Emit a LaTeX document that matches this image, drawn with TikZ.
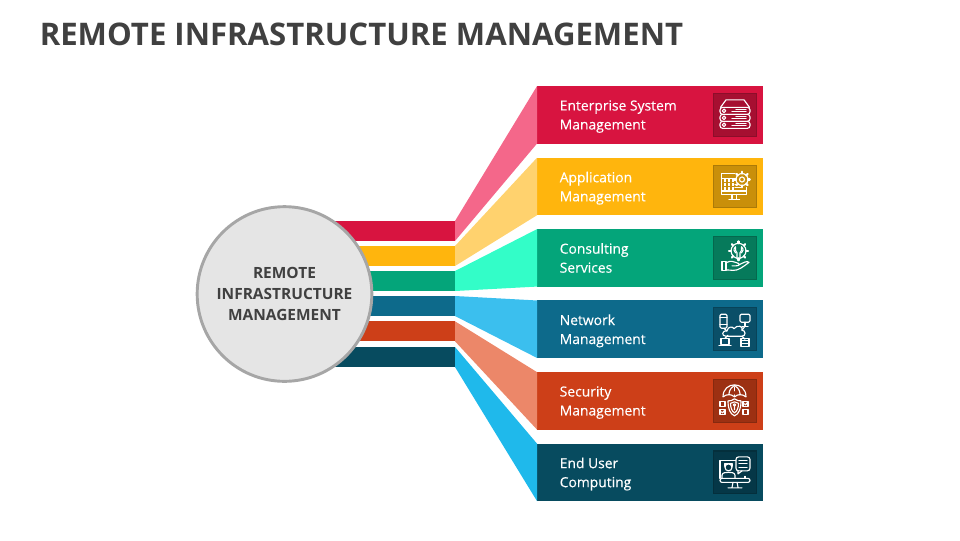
\documentclass[tikz,border=0pt]{standalone}
\usepackage{fontspec}
\setmainfont{Open Sans}
\newfontfamily\labelfont[FakeBold=0.3]{Open Sans}
\usepackage{xcolor}
\usepackage{tikz}
\usetikzlibrary{positioning,calc}

\definecolor{crimsonBar}{HTML}{D81440}
\definecolor{crimsonLight}{HTML}{F4678A}
\definecolor{crimsonDark}{HTML}{A60F31}
\definecolor{amberBar}{HTML}{FFB50D}
\definecolor{amberLight}{HTML}{FFD26E}
\definecolor{amberDark}{HTML}{C98F0A}
\definecolor{greenBar}{HTML}{04A57A}
\definecolor{greenLight}{HTML}{33FDC8}
\definecolor{greenDark}{HTML}{067A5B}
\definecolor{tealBar}{HTML}{0D6A8B}
\definecolor{tealLight}{HTML}{3BBFEE}
\definecolor{tealDark}{HTML}{0A4F68}
\definecolor{rustBar}{HTML}{CD3F18}
\definecolor{rustLight}{HTML}{EC8769}
\definecolor{rustDark}{HTML}{9C3012}
\definecolor{navyBar}{HTML}{074B5F}
\definecolor{navyLight}{HTML}{1FB9EB}
\definecolor{navyDark}{HTML}{053747}

\tikzset{
    stubbar/.style={minimum width=93.75pt,minimum height=15pt,inner sep=0pt,outer sep=0pt},
    rowbar/.style={minimum width=169.5pt,minimum height=43.1pt,inner sep=0pt,outer sep=0pt},
    rowtext/.style={anchor=west,inner sep=0pt,text=white,align=left,font=\labelfont\fontsize{10.4}{14.25}\selectfont},
    iconbox/.style={minimum size=32pt,inner sep=0pt,line width=0.8pt},
    iconline/.style={draw=white,line width=0.85pt,line join=round,line cap=round}
}

\begin{document}
\begin{tikzpicture}[x=0.75pt,y=-0.75pt]
    \useasboundingbox (0,0) rectangle (960,540);

    % Title
    \node[anchor=west,inner sep=0pt,text=black!75,font=\fontsize{23.35}{28}\selectfont\bfseries] (title) at (39.5,34) {REMOTE INFRASTRUCTURE MANAGEMENT};

    % Draw bars and wedges
    \foreach \n/\ys/\yr/\base/\txt in {
        1/231/114.85/crimson/{Enterprise System\\Management},
        2/256/186.5/amber/{Application\\Management},
        3/281/257.85/green/{Consulting\\Services},
        4/306/329.2/teal/{Network\\Management},
        5/331.3/400.85/rust/{Security\\Management},
        6/357/472.35/navy/{End User\\Computing}} {
        \node[stubbar,fill=\base Bar] (stub\n) at (392.5,\ys) {};
        \node[rowbar,fill=\base Bar] (row\n) at (650,\yr) {};
        \fill[\base Light] (stub\n.north east) -- (row\n.north west) -- (row\n.south west) -- (stub\n.south east) -- cycle;
        \node[rowtext] (label\n) at (559.5,\yr+1.7) {\txt\vphantom{g}};
        \node[iconbox,fill=\base Dark,draw=\base Dark!85!black] (icon\n) at (735,\yr) {};
    }

    % Centre circle
    \node[circle,minimum size=131pt,inner sep=0pt,fill=black!10,draw=black!35,line width=2.2pt,align=center,text=black!75,font=\fontsize{11.6}{15.75}\selectfont\bfseries] (hub) at (284.5,294) {REMOTE\\INFRASTRUCTURE\\MANAGEMENT};

    % Server icon
    \begin{scope}[shift={(icon1.center)},iconline]
        \draw (-14.5,-7.5) -- (-9,-15) -- (9,-15) -- (14.5,-7.5);
        \foreach \y in {-7.5,-0.5,6.5} {
            \draw[rounded corners=2] (-15,\y) rectangle (15,\y+7);
            \draw (-11,\y+3.5) circle (1.8);
            \draw (1,\y+2) -- (11,\y+2);
            \draw (-3,\y+4.5) -- (11,\y+4.5);
        }
    \end{scope}

    % Monitor and gear icon
    \begin{scope}[shift={(icon2.center)},iconline]
        \draw (0,-13) -- (-13.5,-13) -- (-13.5,8) -- (11.5,8) -- (11.5,1);
        \draw (-13.5,-8) -- (0,-8);
        \draw (-13.5,4.5) -- (11.5,4.5);
        \draw (-3,8) -- (-3,12) (1.5,8) -- (1.5,12) (-6,13) -- (4.5,13);
        \foreach \x in {-11.5,-7.5,-3.5}
            \foreach \y in {-6,-2,2}
                \fill[white,draw=none] (\x,\y-1.2) rectangle (\x+2.6,\y+1.2);
        \draw (0,-2) -- (8,-2) (0,1) -- (6,1);
        \draw[fill=amberDark] (7,-7) circle (6);
        \draw (7,-7) circle (2.5);
        \foreach \a in {0,45,...,315}
            \draw[line width=1.6pt] (7,-7) ++(\a:6) -- ++(\a:1.8);
    \end{scope}

    % Hand and gear icon
    \begin{scope}[shift={(icon3.center)},iconline]
        \draw (3.5,-7) circle (7.5);
        \foreach \a in {0,45,...,315}
            \draw[line width=1.6pt] (3.5,-7) ++(\a:7.5) -- ++(\a:2);
        \draw (0.5,-11) -- (0.5,-7.5) -- (2,-5) -- (2,1) (6.5,-11) -- (6.5,-7.5) -- (5,-5) -- (5,1);
        \draw (0.5,-11) .. controls (-2,-9) and (-1,-6) .. (0.5,-5) (6.5,-11) .. controls (9,-9) and (8,-6) .. (6.5,-5);
        \draw (-13,4) rectangle (-9,13);
        \draw (-9,5) .. controls (-4,2) and (-2,4) .. (2,5) .. controls (5,5.5) and (5,8) .. (1,8) -- (-3,8);
        \draw (-9,12) -- (-2,12.5) .. controls (3,13) and (8,9) .. (14,4.5) .. controls (12,2.5) and (8,5) .. (4,7);
    \end{scope}

    % Network icon
    \begin{scope}[shift={(icon4.center)},iconline]
        \draw[rounded corners=1] (-15,-15) rectangle (-8,-1);
        \draw (-15,-12) -- (-8,-12) (-15,-5) -- (-8,-5);
        \draw[rounded corners=1] (5,-15) rectangle (15,-7);
        \draw (10,-7) -- (10,-3) (7,-3) -- (13,-3);
        \draw (-9,7) .. controls (-14,7) and (-13,1) .. (-8,1.5) .. controls (-7,-3) and (-2,-3) .. (-1,-0.5) .. controls (2,-5) and (9,-3) .. (7,1) .. controls (11,1) and (11,7) .. (7,7) -- cycle;
        \draw (-11,-1) -- (-8,2) (10,-3) -- (7,1) (-10,9) -- (-7,6) (10,10) -- (7,7);
        \draw (-14,9.5) rectangle (-6,15);
        \draw (-16,16) -- (-4,16);
        \draw (6,9) rectangle (14,17);
        \draw (6,11.7) -- (14,11.7) (6,14.3) -- (14,14.3);
    \end{scope}

    % Umbrella and shield icon
    \begin{scope}[shift={(icon5.center)},iconline]
        \draw (-12,-4) .. controls (-12,-20) and (11,-20) .. (11,-4) .. controls (7,-7) and (3,-7) .. (-0.5,-4) .. controls (-4,-7) and (-8,-7) .. cycle;
        \draw (-0.5,-15.5) .. controls (-6,-12) and (-6,-8) .. (-6,-6) (-0.5,-15.5) .. controls (5,-12) and (5,-8) .. (5,-6);
        \draw[dashed] (-0.5,-14) -- (-0.5,-5);
        \draw (-0.5,-2) .. controls (-3,0) and (-5,0) .. (-7,0) .. controls (-7,8) and (-5,13) .. (-0.5,15) .. controls (4,13) and (6,8) .. (6,0) .. controls (4,0) and (2,0) .. cycle;
        \draw (-0.5,1) .. controls (-2,2) and (-3,2) .. (-4.5,2.5) .. controls (-4.5,7) and (-3,10.5) .. (-0.5,12) .. controls (2,10.5) and (3.5,7) .. (3.5,2.5) .. controls (2,2) and (1,2) .. cycle;
        \draw (-0.5,4) circle (1.2) (-0.5,5) -- (-0.5,9);
        \foreach \cx/\cy in {-12.5/3.5,10.5/3,-12.5/11,10.5/11}
            \draw (\cx-2.5,\cy-2.5) rectangle (\cx+2.5,\cy+2.5);
        \draw (-13.5,11) -- (-12.5,12) -- (-10,9) (9.5,3) -- (10.5,4) -- (13,1);
    \end{scope}

    % Remote user icon
    \begin{scope}[shift={(icon6.center)},iconline]
        \draw (1,-12) -- (-15,-12) -- (-15,6) (10,4) -- (10,6);
        \draw[rounded corners=1.5] (-15,6) rectangle (15,10);
        \draw (-2,10) -- (-3,15) (2,10) -- (3,15) (-7,15.5) -- (7,15.5);
        \draw (-6.5,-5) circle (3.5);
        \draw (-10,-6) -- (-10,-9) -- (-3,-9) -- (-3,-6);
        \draw (-13,6) -- (-13,3) .. controls (-13,0) and (-9,0) .. (-6.5,0) .. controls (-4,0) and (0,0) .. (0,3) -- (0,6);
        \draw[rounded corners=2,fill=navyDark] (1,-15.5) rectangle (15,-1.5);
        \draw (3,-1.5) -- (3,1.5) -- (7,-1.5);
        \draw (4,-12) -- (12,-12) (4,-8.5) -- (12,-8.5) (4,-5) -- (12,-5);
    \end{scope}
\end{tikzpicture}
\end{document}
